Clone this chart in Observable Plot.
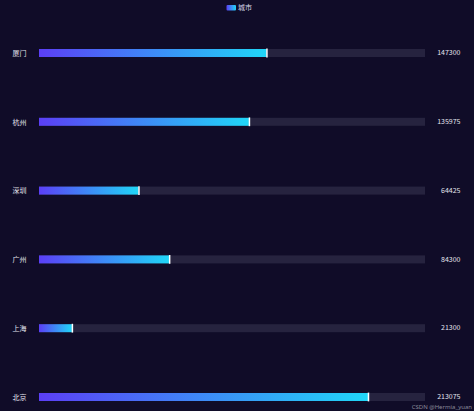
<!DOCTYPE html>
<html>
<head>
<meta charset="utf-8">
<script src="https://cdn.jsdelivr.net/npm/d3@7"></script>
<script src="https://cdn.jsdelivr.net/npm/@observablehq/plot@0.6"></script>
<style>
  html, body { margin: 0; padding: 0; background: #100c28; overflow: hidden; }
  #chart { position: relative; width: 474px; height: 411px; }
  svg { display: block; }
</style>
</head>
<body>
<div id="chart"></div>
<script>
// ---- data ----
const cities = ["厦门", "杭州", "深圳", "广州", "上海", "北京"];
const values = [147300, 135975, 64425, 84300, 21300, 213075];
const xMax = 250000;
const seriesName = "城市";

const data = cities.map((c, i) => ({ city: c, value: values[i] }));

const font = "'Noto Sans CJK SC', 'Noto Sans', sans-serif";

const svg = Plot.plot({
  width: 474,
  height: 411,
  margin: 0,
  style: { background: "transparent", fontFamily: font },
  x: { domain: [0, xMax], range: [39, 425], axis: null },
  y: { domain: cities, range: [18.6, 431.4], padding: 0, round: false, axis: null },
  marks: [
    Plot.barX(data, { y: "city", x1: 0, x2: xMax, fill: "#26233f", insetTop: 30.4, insetBottom: 30.4 }),
    Plot.barX(data, { y: "city", x1: 0, x2: "value", fill: "url(#barGrad)", insetTop: 30.4, insetBottom: 30.4 }),
    Plot.tickX(data, { y: "city", x: "value", stroke: "#ffffff", strokeWidth: 1.5, insetTop: 30, insetBottom: 30 }),
    Plot.text(data, { y: "city", text: "city", frameAnchor: "left", textAnchor: "start", dx: 12, fill: "#e4e4ee", fontSize: 7 }),
    Plot.text(data, { y: "city", text: d => String(d.value), frameAnchor: "right", textAnchor: "end", dx: -14, dy: -0.5, fill: "#e4e4ee", fontSize: 7 })
  ]
});

const ns = "http://www.w3.org/2000/svg";
const defs = document.createElementNS(ns, "defs");
defs.innerHTML = `
  <linearGradient id="barGrad" x1="0" y1="0" x2="1" y2="0">
    <stop offset="0" stop-color="#5b3ff6"/>
    <stop offset="1" stop-color="#20d6f7"/>
  </linearGradient>
  <linearGradient id="legGrad" x1="0" y1="0" x2="1" y2="0">
    <stop offset="0" stop-color="#5b3ff6"/>
    <stop offset="1" stop-color="#20d6f7"/>
  </linearGradient>`;
svg.insertBefore(defs, svg.firstChild);

// legend
const sel = d3.select(svg);
const leg = sel.append("g");
leg.append("rect").attr("x", 226.5).attr("y", 5).attr("width", 9.5).attr("height", 5.5).attr("rx", 1).attr("fill", "url(#legGrad)");
leg.append("text").attr("x", 238).attr("y", 8).attr("dominant-baseline", "middle").attr("text-anchor", "start")
  .attr("font-size", 7).attr("fill", "#d8d8e8").attr("font-family", font).text(seriesName);

// watermark
sel.append("text").attr("x", 472).attr("y", 408.5).attr("text-anchor", "end")
  .attr("font-size", 6).attr("fill", "#8a8a9a").attr("font-family", "'Noto Sans', sans-serif")
  .text("CSDN @Hermia_yuan");

document.getElementById("chart").appendChild(svg);
</script>
</body>
</html>
